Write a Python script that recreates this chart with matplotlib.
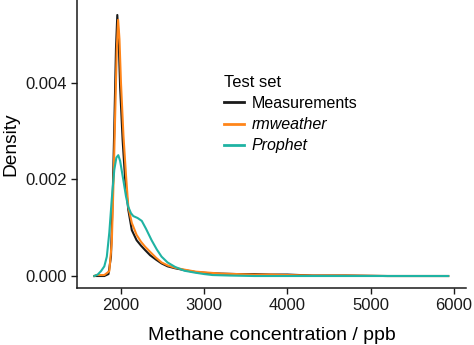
import matplotlib
matplotlib.use("Agg")
import matplotlib.pyplot as plt

plt.rcParams['font.family'] = ['Liberation Sans', 'DejaVu Sans']

# density curves (x: ppb, y: density)
meas_x = [1680, 1700, 1800, 1850, 1880, 1900, 1920, 1940, 1956, 1972, 1990, 2020, 2050, 2088, 2130,
          2188, 2240, 2288, 2350, 2420, 2488, 2560, 2650, 2768, 2900, 3050, 3200, 3400, 3600, 3800,
          4000, 4300, 4700, 5200, 5930]
meas_y = [0, 0, 0, 0.00004, 0.0004, 0.0016, 0.0031, 0.0047, 0.0054, 0.0049, 0.0039, 0.00281, 0.0020,
          0.00137, 0.00095, 0.00074, 0.00063, 0.00054, 0.00043, 0.00034, 0.00026, 0.0002, 0.00016,
          0.00012, 0.00008, 0.00006, 0.00005, 0.00004, 0.00004, 0.00003, 0.00003, 0.00001, 0.00001, 0, 0]

rmw_x = [1680, 1700, 1800, 1860, 1890, 1910, 1930, 1950, 1966, 1982, 2000, 2030, 2060, 2088, 2130,
         2188, 2240, 2288, 2350, 2420, 2488, 2560, 2650, 2768, 2900, 3050, 3200, 3400, 3600, 3800,
         4000, 4300, 4700, 5200, 5930]
rmw_y = [0, 0.00002, 0.00002, 0.0001, 0.0007, 0.0019, 0.0033, 0.0047, 0.0053, 0.0049, 0.0040, 0.0029,
         0.0021, 0.00143, 0.0011, 0.00085, 0.00071, 0.00061, 0.0005, 0.00038, 0.00028, 0.00022,
         0.00017, 0.00013, 0.00009, 0.00007, 0.00005, 0.00004, 0.00003, 0.00003, 0.00002, 0.00001,
         0.00001, 0, 0]

prophet_x = [1680, 1720, 1760, 1800, 1830, 1860, 1890, 1920, 1945, 1968, 1990, 2028, 2060, 2088, 2120,
             2148, 2200, 2250, 2300, 2368, 2430, 2488, 2560, 2648, 2760, 2888, 3000, 3100, 3300, 3600,
             4000, 5000, 5930]
prophet_y = [0, 0.00003, 0.0001, 0.0002, 0.0004, 0.0009, 0.0016, 0.0022, 0.00245, 0.0025, 0.00238,
             0.00199, 0.00165, 0.00143, 0.0013, 0.00124, 0.0012, 0.00114, 0.00098, 0.00074, 0.00055,
             0.0004, 0.00028, 0.00019, 0.00011, 0.00007, 0.00004, 0.00002, 0.00001, 0, 0, 0, 0]

x_ticks = [2000, 3000, 4000, 5000, 6000]
y_ticks = [0.000, 0.002, 0.004]

fig = plt.figure(figsize=(4.74, 3.45), dpi=100)
ax = fig.add_axes([77 / 474, 57 / 345, 389 / 474, 288 / 345])

ax.plot(meas_x, meas_y, color='#1a1a1a', lw=1.5, label='Measurements')
ax.plot(rmw_x, rmw_y, color='#ff8519', lw=1.5, label='rmweather')
ax.plot(prophet_x, prophet_y, color='#1fb3a3', lw=1.5, label='Prophet')

ax.set_xlim(1472, 6144)
ax.set_ylim(-0.000248, 0.00571)
ax.set_xticks(x_ticks)
ax.set_yticks(y_ticks)
ax.set_yticklabels(['%.3f' % v for v in y_ticks])
ax.tick_params(labelsize=12, colors='#1a1a1a', length=4, width=1)
for s in ['top', 'right']:
    ax.spines[s].set_visible(False)
for s in ['left', 'bottom']:
    ax.spines[s].set_linewidth(1.1)
    ax.spines[s].set_color('#1a1a1a')

ax.set_xlabel('Methane concentration / ppb', fontsize=14, labelpad=10)
ax.set_ylabel('Density', fontsize=13.8, labelpad=4)

leg = ax.legend(title='Test set', frameon=False, fontsize=11.5, title_fontsize=11.9,
                loc='upper left', bbox_to_anchor=(216 / 474, 1 - 67 / 345),
                bbox_transform=fig.transFigure, borderpad=0, handlelength=1.25,
                handletextpad=0.5, labelspacing=0.38, alignment='left')
leg.get_texts()[1].set_fontstyle('italic')
leg.get_texts()[2].set_fontstyle('italic')
for h in leg.get_lines():
    h.set_linewidth(2)

fig.savefig('out.png', dpi=100)
